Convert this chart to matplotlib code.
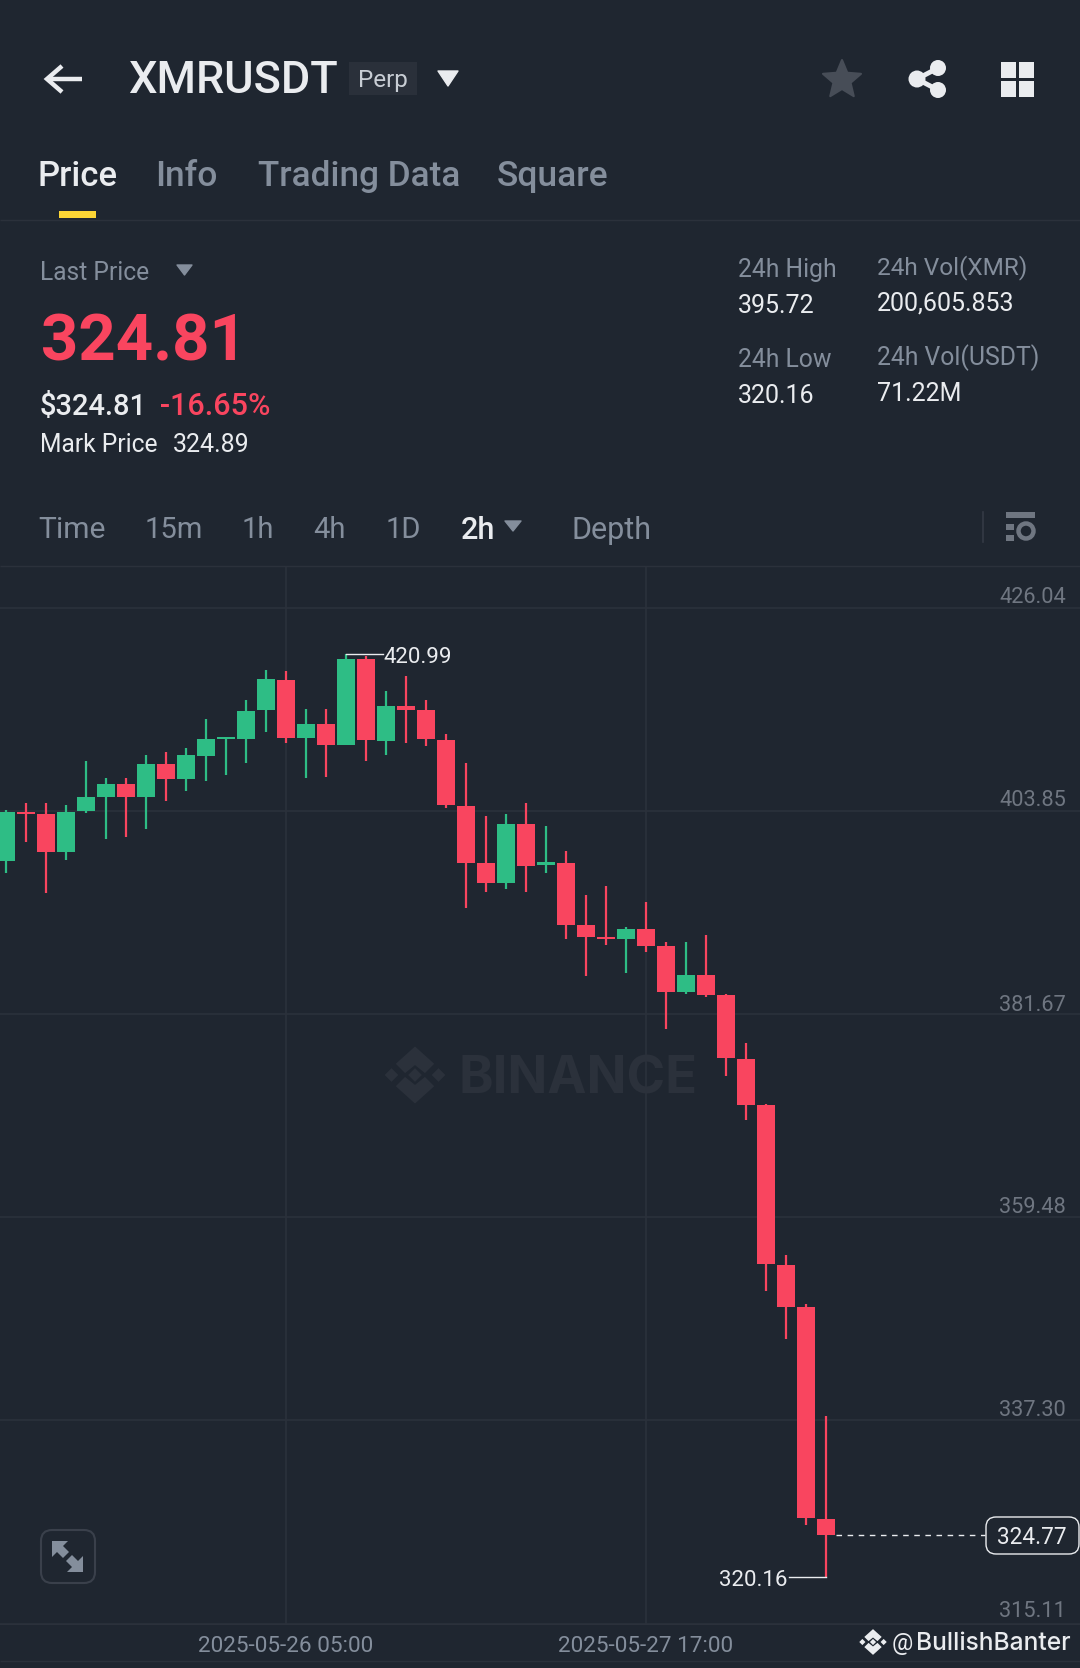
import matplotlib
matplotlib.use("Agg")
import matplotlib.pyplot as plt
from matplotlib.patches import Polygon, FancyBboxPatch, Rectangle, Circle
import numpy as np

opens = [398.35,403.78,403.52,399.34,403.89,405.42,406.76,405.34,409.02,407.38,409.89,411.71,411.68,414.84,
         418.12,411.79,413.31,411.09,420.45,411.53,415.32,414.84,411.60,404.43,398.17,395.99,402.47,397.99,
         398.17,391.40,390.09,389.91,390.96,389.11,384.05,385.94,383.76,376.80,371.72,354.32,349.69,326.55]
highs = [403.96,404.69,404.69,404.47,409.35,407.42,407.49,409.97,410.33,410.73,413.86,411.98,415.97,419.28,
         419.10,414.95,414.99,420.99,420.78,416.99,418.63,415.97,412.26,409.09,403.34,403.52,404.76,402.25,
         399.48,394.68,395.70,391.15,393.91,389.54,389.58,390.35,383.87,378.48,371.85,355.33,349.99,337.75]
lows = [397.04,400.43,394.86,398.54,403.60,400.79,400.97,401.92,404.98,406.07,407.09,407.82,409.06,412.51,
        411.31,407.45,407.53,411.02,409.27,409.97,411.24,410.95,404.14,393.22,395.00,395.30,395.00,397.04,
        389.87,385.87,389.25,386.12,388.42,380.04,383.90,383.50,374.92,370.11,351.43,346.23,325.94,320.16]
closes = [403.78,403.49,399.34,403.78,405.42,406.80,405.34,409.02,407.38,409.97,411.71,411.93,414.77,418.23,
          411.86,413.31,411.09,420.45,411.64,415.35,414.84,411.68,404.47,398.21,395.95,402.47,397.84,398.24,
          391.40,390.05,389.84,390.93,389.14,384.05,385.94,383.76,376.84,371.77,354.36,349.73,326.60,324.81]
price_ticks = [426.04,403.85,381.67,359.48,337.30,315.11]
date_idx = [14,32]
date_labels = ["2025-05-26 05:00","2025-05-27 17:00"]
period_high, period_low, last_px, tag_px = 420.99, 320.16, 324.81, 324.77

BG="#1f2630"; GREEN="#2EBD85"; RED="#F9455F"; GRID="#2b313b"; GREY="#848E9C"; WHITE="#EAECEF"; AXT="#6f7681"
FONT="Roboto"
plt.rcParams['font.family']=[FONT,'DejaVu Sans']
W,H=1080,1668
fig=plt.figure(figsize=(W/100,H/100),dpi=100,facecolor=BG)
ui=fig.add_axes([0,0,1,1],zorder=0,facecolor=BG)
ui.set_xlim(0,W); ui.set_ylim(H,0); ui.axis('off')

def t(x,y,s,size,color=WHITE,ha='left',weight='normal',ax=ui,**k):
    return ax.text(x,y+2.5,s,fontsize=size,color=color,ha=ha,va='center',fontweight=weight,**k)
def tri(x0,x1,y0,y1,color):
    ui.add_patch(Polygon([(x0,y0),(x1,y0),((x0+x1)/2,y1)],closed=True,fc=color,ec=color,lw=1,joinstyle='round'))
def hl(y,x0=0,x1=W,c=GRID,lw=1.0):
    ui.plot([x0,x1],[y,y],color=c,lw=lw,solid_capstyle='butt')

# Header
ui.plot([47,82],[79,79],color=WHITE,lw=3.2,solid_capstyle='butt')
ui.plot([62,47,62],[66,79,92],color=WHITE,lw=3.2,solid_joinstyle='miter',solid_capstyle='butt')
t(128,78,"XMRUSDT",32.5,weight='medium')
ui.add_patch(Rectangle((349,62),68,33,fc="#2a303a",ec="none",zorder=1))
t(383,78,"Perp",17.5,color="#C8CDD4",ha='center',zorder=3)
tri(438,458,71,86,WHITE)
ang=np.arange(10)*np.pi/5-np.pi/2
rad=np.where(np.arange(10)%2==0,20,9)
ui.add_patch(Polygon(np.c_[842+rad*np.cos(ang),80+rad*np.sin(ang)],closed=True,fc="#474D57",ec="#474D57",lw=1.5,joinstyle='round'))
ui.plot([938,917,938],[68,79,90],color=WHITE,lw=3.5)
for cx,cy,r in [(938,68,8),(917,79,8.5),(938,90,8)]:
    ui.add_patch(Circle((cx,cy),r,fc=WHITE,ec='none'))
for x0,y0 in [(1001,62),(1019,62),(1001,81),(1019,81)]:
    ui.add_patch(Rectangle((x0,y0),15,16,fc=WHITE,ec='none'))

# Tabs
t(38,174,"Price",25,weight='medium')
t(155,174,"Info",25.5,GREY,weight='medium')
t(258,174,"Trading Data",25.3,GREY,weight='medium')
t(497,174,"Square",25.5,GREY,weight='medium')
ui.add_patch(Rectangle((59,211),37,7,fc="#FCD535",ec='none'))
hl(219.5)

# Price block
t(40,270,"Last Price",17.7,GREY)
tri(177,192,265,275,GREY)
t(41,340,"324.81",47,RED,weight='bold')
t(40,404,"$324.81",21,WHITE,weight='medium')
t(160,404,"-16.65%",22,RED,weight='medium')
t(40,442,"Mark Price",17.7,WHITE)
t(173,442,"324.89",18,WHITE)
t(738,267,"24h High",17.8,GREY); t(738,303,"395.72",18)
t(738,357,"24h Low",17.8,GREY); t(738,393,"320.16",18)
t(877,265,"24h Vol(XMR)",17.6,GREY); t(877,301,"200,605.853",18)
t(877,355,"24h Vol(USDT)",17.8,GREY); t(877,391,"71.22M",18)

# Interval row
for x,s,sz in [(38,"Time",21.6),(145,"15m",21),(242,"1h",21),(313,"4h",21),(386,"1D",21),(572,"Depth",22)]:
    t(x,528,s,sz,GREY)
t(461,528,"2h",22,WHITE,weight='medium')
tri(505,521,521,531,GREY)
ui.plot([983,983],[512,542],color="#343a45",lw=1.2)
ui.add_patch(Rectangle((1006,512),29,6,fc="#6f7681",ec='none'))
ui.add_patch(Rectangle((1006,524),8,6,fc="#6f7681",ec='none'))
ui.add_patch(Rectangle((1006,535),8,6,fc="#6f7681",ec='none'))
ui.add_patch(Circle((1026,531),7.5,fc='none',ec="#6f7681",lw=3.2))
hl(565.5)
hl(1661)

# Watermark
def diamond(a,cx,cy,r,c):
    a.add_patch(Polygon([(cx-r,cy),(cx,cy-r),(cx+r,cy),(cx,cy+r)],closed=True,fc=c,ec='none'))
def chevron(a,cx,cy,r,up,c,th):
    s=-1 if up else 1
    a.add_patch(Polygon([(cx-r,cy+s*r*.1),(cx,cy+s*r),(cx+r,cy+s*r*.1),(cx+r-th,cy+s*r*.1-s*th),(cx,cy+s*(r-th)-s*th),(cx-r+th,cy+s*r*.1-s*th)],closed=True,fc=c,ec='none'))
def logo(a,cx,cy,R,c):
    diamond(a,cx,cy,R*.22,c); diamond(a,cx-R*.76,cy,R*.22,c); diamond(a,cx+R*.76,cy,R*.22,c)
    chevron(a,cx,cy-R*.30,R*.62,True,c,R*.3); chevron(a,cx,cy+R*.30,R*.62,False,c,R*.3)
logo(ui,415,1075,31,"#2b313b")
t(458,1078,"BINANCE",37.7,"#2b313b",weight='bold',family='Inter')

# Chart
top_px,bot_px=566,1624
ax=fig.add_axes([0,(H-bot_px)/H,1,(bot_px-top_px)/H],zorder=1)
ax.patch.set_alpha(0)
ax.set_xlim(-0.3,53.7); ax.set_ylim(315.08,430.60)
for s in ['top','left','right']: ax.spines[s].set_visible(False)
ax.spines['bottom'].set_color(GRID)
ax.set_yticks(price_ticks); ax.set_yticklabels([])
ax.set_xticks(date_idx); ax.set_xticklabels(date_labels,color=GREY,fontsize=16.2)
ax.tick_params(length=0,pad=8.5,axis='x'); ax.tick_params(length=0,axis='y')
ax.grid(True,color=GRID,lw=1.2); ax.set_axisbelow(True)
x=np.arange(len(opens)); o=np.array(opens); c=np.array(closes)
cols=[GREEN if b>=a else RED for a,b in zip(o,c)]
ax.vlines(x,lows,highs,colors=cols,lw=1.6,zorder=3)
ax.bar(x,np.abs(c-o),bottom=np.minimum(o,c),width=0.88,color=cols,lw=0,zorder=4)

ytr=ax.get_yaxis_transform()
offs=[10,10,9,10,10,12]
for v,dy in zip(price_ticks,offs):
    ax.annotate(f"{v:.2f}",(1,v),xycoords=ytr,xytext=(-10,dy*0.72),textcoords='offset points',
                ha='right',va='center',color=AXT,fontsize=15.7)
hi=int(np.argmax(highs)); lo=int(np.argmin(lows))
ax.plot([hi,hi+1.85],[period_high]*2,color=WHITE,lw=1,zorder=5)
ax.text(hi+1.85,period_high-0.4,f"{period_high:.2f}",color=WHITE,fontsize=16,va='center',ha='left')
ax.plot([lo-1.85,lo],[period_low]*2,color=WHITE,lw=1,zorder=5)
ax.text(lo-1.95,period_low-0.3,f"{period_low:.2f}",color=WHITE,fontsize=16,va='center',ha='right')
ax.plot([lo+0.5,48.95],[last_px]*2,color=WHITE,lw=1,dashes=(4,4),zorder=5)

# last price tag, zoom box, credit on top
top=fig.add_axes([0,0,1,1],zorder=2); top.patch.set_alpha(0); top.set_xlim(0,W); top.set_ylim(H,0); top.axis('off')
top.add_patch(FancyBboxPatch((986,1517),93,37,boxstyle="round,pad=0,rounding_size=10",fc=BG,ec=WHITE,lw=1))
t(1032,1534.5,f"{tag_px:.2f}",16.3,WHITE,ha='center',ax=top)
top.add_patch(FancyBboxPatch((41,1530),54,53,boxstyle="round,pad=0,rounding_size=11",fc=BG,ec="#3a404b",lw=1.5))
for pts in ([(52,1541),(68,1541),(63,1546),(69,1552),(63,1558),(57,1552),(52,1557)],
            ([(83,1572),(67,1572),(72,1567),(66,1561),(72,1555),(78,1561),(83,1556)])):
    top.add_patch(Polygon(pts,closed=True,fc="#848E9C",ec='none'))
logo(top,873,1642,14,WHITE)
t(892,1641,"@",17,WHITE,ax=top)
t(916,1641,"BullishBanter",17.7,WHITE,ax=top,family='Inter',weight='medium')

fig.savefig("out.png",dpi=100,facecolor=BG)
